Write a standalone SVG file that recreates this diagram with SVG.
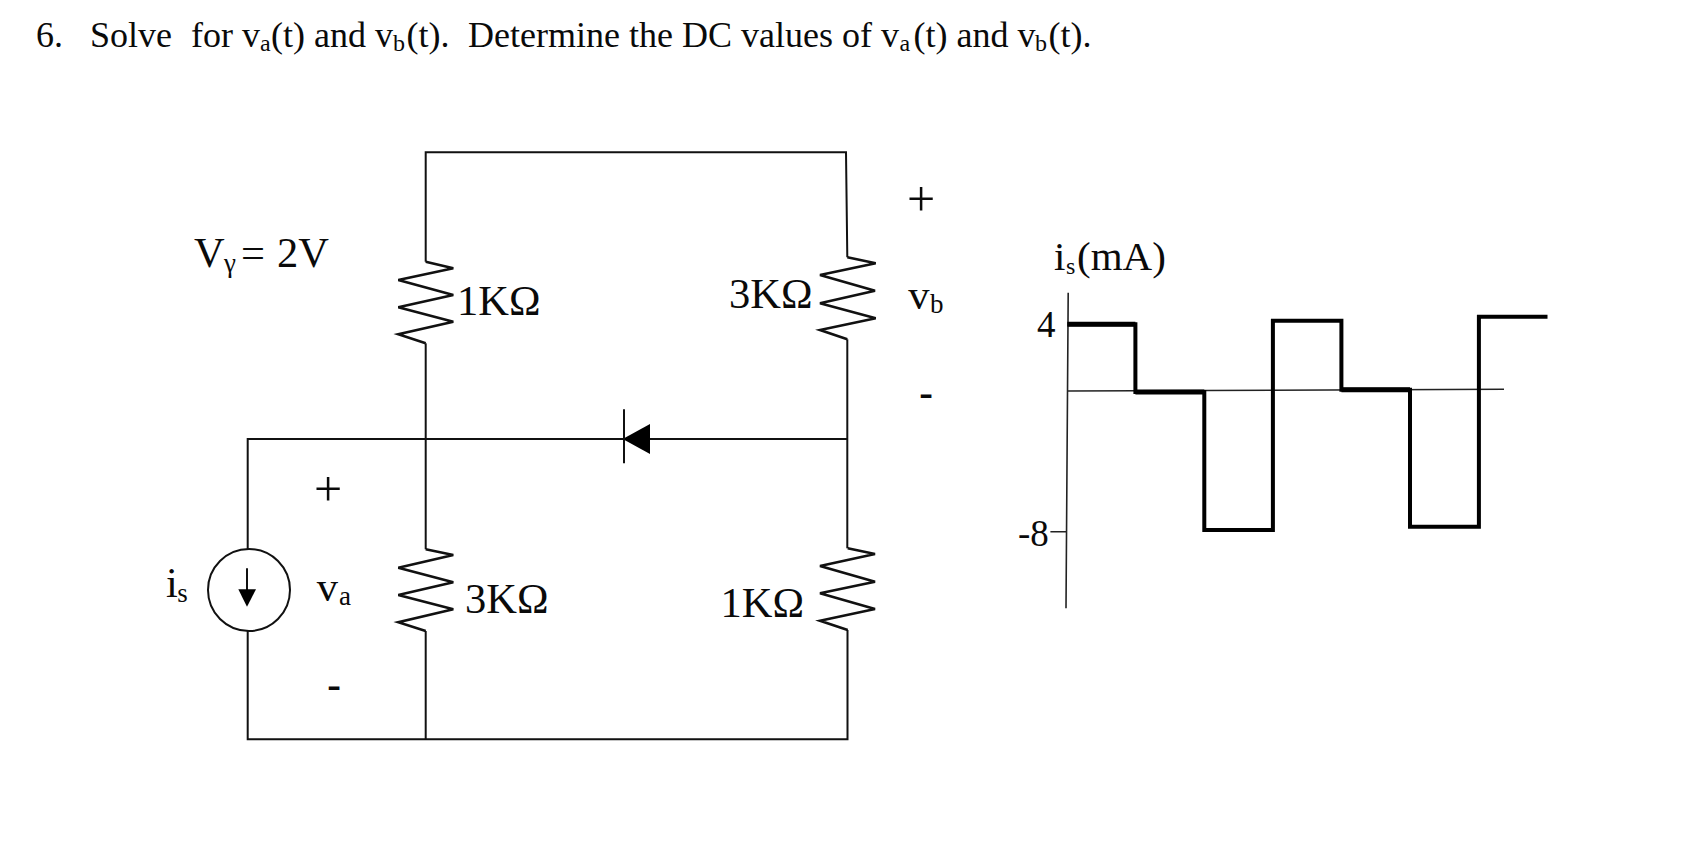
<svg xmlns="http://www.w3.org/2000/svg" width="1698" height="844" viewBox="0 0 1698 844">
<style>
text{font-family:"Liberation Serif","Times New Roman",serif;fill:#0a0a0a}
.t{font-size:36px}.l{font-size:41px}.rl{font-size:42.5px}.s{font-size:24px}.sv{font-size:27px}.n{font-size:37px}.pm{font-size:50px}
.w{fill:none;stroke:#111;stroke-width:2;stroke-linejoin:miter}
.r{fill:none;stroke:#111;stroke-width:2.6;stroke-linejoin:miter}
.a{fill:none;stroke:#222;stroke-width:1.6}
.p{fill:none;stroke:#000;stroke-width:4;stroke-linejoin:miter}
.pt{fill:none;stroke:#000;stroke-width:5}
.f{fill:#000;stroke:none}
</style>
<rect width="1698" height="844" fill="#fff"/>
<g id="title"><text class="t" y="47"><tspan x="36">6.</tspan><tspan x="90">Solve</tspan><tspan x="191">for v</tspan><tspan x="260" y="51" class="s">a</tspan><tspan x="271" y="47">(t) and v</tspan><tspan x="393" y="51" class="s">b</tspan><tspan x="406.5" y="47">(t).</tspan><tspan x="468">Determine the DC values of v</tspan><tspan x="899.5" y="51" class="s">a</tspan><tspan x="913.5" y="47">(t) and v</tspan><tspan x="1035" y="51" class="s">b</tspan><tspan x="1048.5" y="47">(t).</tspan></text></g>
<g id="connectors">
<path class="w" d="M425.7 261.7V152.3H846L847.3 257.3"/>
<path class="w" d="M425.7 343.3V549.3"/>
<path class="w" d="M847.3 339.3V548.3"/>
<path class="w" d="M247.7 549V439H847.3"/>
<path class="w" d="M247.7 631V739.3H847.5V630"/>
<path class="w" d="M425.7 631V739.3"/>
</g>
<g id="supply-label"><text class="rl" x="194" y="266.7">V</text><text class="sv" x="224" y="272">γ</text><text class="rl" x="241" y="266.7">=</text><text class="rl" x="277" y="266.7">2V</text></g>
<g id="r1"><path class="r" d="M425.7 261.7L453.3 268.3L398.3 280L453.3 295L398.3 307.3L453.3 321.7L398.3 334.3L425.7 343.3"/><text class="rl" x="457" y="315">1KΩ</text></g>
<g id="r2"><path class="r" d="M847.3 257.3L875.7 263.3L820 275L875 290.7L820 303.3L875.7 318.3L820 330L847.3 339.3"/><text class="rl" x="729" y="308">3KΩ</text></g>
<g id="r3"><path class="r" d="M425.7 549.3L453.3 555L398.3 567.7L453.3 582.3L398.3 595L453.3 609.3L398.3 622.3L425.7 631"/><text class="rl" x="465" y="612.7">3KΩ</text></g>
<g id="r4"><path class="r" d="M847.7 548.3L875 554L820 566L875 581.7L820 593.3L875 609L820 620.7L847.7 630"/><text class="rl" x="720.5" y="617.3">1KΩ</text></g>
<g id="diode"><path class="f" d="M622.7 439L650 424V454Z"/><path class="w" d="M624 409.3V463.3"/></g>
<g id="source"><circle cx="249" cy="590" r="41" fill="#fff" stroke="#111" stroke-width="2"/><path class="w" d="M247 568.3V592"/><path class="f" d="M238.3 589.3H256L247 606.7Z"/><text class="rl" x="166" y="597.3">i</text><text class="sv" x="177.3" y="601.7">s</text></g>
<g id="va"><text class="pm" text-anchor="middle" x="328" y="506">+</text><text class="rl" x="316.7" y="600.7">v</text><text class="sv" x="339" y="605">a</text><text class="l" text-anchor="middle" x="334" y="698" font-weight="bold">-</text></g>
<g id="vb"><text class="pm" text-anchor="middle" x="921" y="215.5">+</text><text class="rl" x="908.3" y="309.3">v</text><text class="sv" x="930" y="313">b</text><text class="l" text-anchor="middle" x="926" y="406" font-weight="bold">-</text></g>
<g id="chart">
<text class="l" x="1054" y="270">i</text><text class="s" x="1066" y="274">s</text><text class="l" x="1077" y="270">(mA)</text>
<text class="n" x="1037" y="336.7">4</text><text class="n" x="1018" y="546">-8</text>
<path class="a" d="M1068.2 292.7L1066 608.3M1068 391L1504 389.3M1050.4 531.7H1067"/>
<path class="p" d="M1067.5 324.3H1135.4V392H1204.3V530H1272.9V320.7H1341.4V389.7H1410V526.7H1478.9V316.7H1547.5"/>
<path class="pt" d="M1067.5 324.3H1135.4M1135.4 392H1204.3M1341.4 389.7H1410"/>
</g>
</svg>
